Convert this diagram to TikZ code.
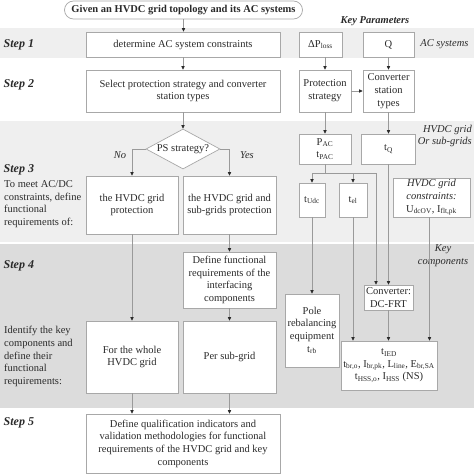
\documentclass[tikz,border=0pt]{standalone}
\usepackage{fontspec}
\setmainfont{Liberation Serif}
\usetikzlibrary{arrows.meta,shapes.geometric}
\definecolor{bandA}{HTML}{EFEFEF}
\definecolor{bandB}{HTML}{DCDCDC}
\definecolor{bord}{HTML}{A8A8A8}
\definecolor{lin}{HTML}{9A9A9A}
\definecolor{txt}{HTML}{2A2A2A}
\begin{document}
\begin{tikzpicture}[x=1pt,y=-1pt,
 font=\fontsize{10.5}{12.7}\selectfont, text=txt,
 box/.style={draw=bord, fill=white, line width=0.7pt, inner sep=0pt, align=center},
 sz/.style 2 args={minimum width=#1pt, minimum height=#2pt},
 arr/.style={draw=lin, line width=0.6pt, -{Triangle[length=3.5pt,width=3.2pt,color=txt]}},
 ln/.style={draw=lin, line width=0.6pt},
 stp/.style={font=\fontsize{12}{14}\selectfont\bfseries\itshape, anchor=west, inner sep=0pt},
 lbl/.style={font=\fontsize{10.5}{12.7}\selectfont\itshape}]
\useasboundingbox (0,0) rectangle (474,474);
% bands
\fill[bandA] (0,28) rectangle (474,58);
\fill[bandA] (0,121) rectangle (474,242);
\fill[bandB] (0,244) rectangle (474,408);
% top
\node[box, rounded corners=9pt, sz={238}{18}, font=\fontsize{10.5}{12.7}\selectfont\bfseries] (top) at (183.5,10) {Given an HVDC grid topology and its AC systems};
\node[font=\fontsize{10.5}{12.7}\selectfont\bfseries\itshape] (kp) at (375,21) {Key Parameters};
% step labels
\node[stp] (st1) at (3.5,45) {Step 1};
\node[stp] (st2) at (3.5,85) {Step 2};
\node[stp] (st3) at (3.5,170) {Step 3};
\node[stp] (st4) at (3.5,266) {Step 4};
\node[stp] (st5) at (3.5,423) {Step 5};
\node[anchor=west, align=left, inner sep=0pt] (t3) at (4,204) {To meet AC/DC\\constraints, define\\functional\\requirements of:};
\node[anchor=west, align=left, inner sep=0pt] (t4) at (4,356.5) {Identify the key\\components and\\define their\\functional\\requirements:};
% side labels
\node[lbl, anchor=east] (acs) at (472,44) {AC systems};
\node[lbl, anchor=east, align=right, inner sep=0pt] (hsg) at (472,136) {HVDC grid\\Or sub-grids};
\node[lbl, align=center, inner sep=0pt] (kc) at (443,256) {Key\\components};
% step 1
\node[box, sz={194}{25}] (s1) at (183,44.5) {determine AC system constraints};
\node[box, sz={43}{25}] (dp) at (320.5,44.5) {ΔP\textsubscript{loss}};
\node[box, sz={51}{25}] (q) at (388.5,44.5) {Q};
% step 2
\node[box, sz={194}{42}] (s2) at (183,91) {Select protection strategy and converter\\station types};
\node[box, sz={52}{42}] (prot) at (325,91) {Protection\\strategy};
\node[box, sz={51}{42}] (conv) at (388.5,91) {Converter\\station\\types};
% step 3
\node[box, shape=diamond, aspect=1.85, sz={74}{40}] (dia) at (183,149) {PS strategy?};
\node[lbl] (no) at (120,155) {No};
\node[lbl] (yes) at (247,155) {Yes};
\node[box, sz={92}{58}] (A) at (132,205) {the HVDC grid\\protection};
\node[box, sz={93}{58}] (B) at (229.5,205) {the HVDC grid and\\sub-grids protection};
\node[box, sz={52}{30}] (pac) at (325,149) {P\textsubscript{AC}\\t\textsubscript{PAC}};
\node[box, sz={54}{30}] (tq) at (388.5,149) {t\textsubscript{Q}};
\node[box, sz={26}{34}] (tudc) at (312,200) {t\textsubscript{Udc}};
\node[box, sz={28}{34}] (tel) at (353,200) {t\textsubscript{el}};
\node[box, sz={77}{39}] (hvdcc) at (431.5,197.5) {\textit{HVDC grid}\\\textit{constraints:}\\U\textsubscript{dcOV}, I\textsubscript{flt,pk}};
% step 4
\node[box, sz={93}{56}] (iface) at (229.5,280) {Define functional\\requirements of the\\interfacing\\components};
\node[box, sz={49}{25}] (conv2) at (388.5,297.5) {Converter:\\DC-FRT};
\node[box, sz={54}{73}] (pole) at (312,330.5) {Pole\\rebalancing\\equipment\\t\textsubscript{rb}};
\node[box, sz={96}{49}] (ied) at (389,365.5) {t\textsubscript{IED}\\t\textsubscript{br,o}, I\textsubscript{br,pk}, L\textsubscript{line}, E\textsubscript{br,SA}\\t\textsubscript{HSS,o}, I\textsubscript{HSS} (NS)};
\node[box, sz={92}{72}] (whole) at (132,357) {For the whole\\HVDC grid};
\node[box, sz={93}{72}] (persub) at (229.5,357) {Per sub-grid};
% step 5
\node[box, sz={194}{59}] (s5) at (183,443.5) {Define qualification indicators and\\validation methodologies for functional\\requirements of the HVDC grid and key\\components};
% connectors
\draw[arr] (top.south) -- (top.south |- s1.north);
\draw[arr] (s1.south) -- (s2.north);
\draw[arr] (dp.south -| prot.north) -- (prot.north);
\draw[arr] (q.south) -- (conv.north);
\draw[arr] (prot.east) -- (conv.west);
\draw[arr] (s2.south) -- (dia.north);
\draw[arr] (prot.south) -- (pac.north);
\draw[arr] (conv.south) -- (conv.south |- tq.north);
\draw[arr] (dia.west) -| (A.north);
\draw[arr] (dia.east) -| (B.north);
\coordinate (br) at (325,173);
\draw[ln] (pac.south) -- (br);
\draw[arr] (br) -| (tudc.north);
\draw[arr] (br) -| (tel.north);
\draw[arr] (br) -| ([xshift=-12.5pt]conv2.north);
\draw[arr] (tq.south) -- (tq.south |- conv2.north);
\draw[arr] (tudc.south) -- (pole.north);
\draw[arr] (tel.south) -- (tel.south |- ied.north);
\draw[arr] (conv2.south) -- (conv2.south |- ied.north);
\draw[arr] ([xshift=-2pt]hvdcc.south) -- ([xshift=-2pt]hvdcc.south |- ied.north);
\draw[arr] (A.south) -- (whole.north);
\draw[arr] (B.south) -- (iface.north);
\draw[arr] (iface.south) -- (persub.north);
\draw[arr] (whole.south) -- (whole.south |- s5.north);
\draw[arr] (persub.south) -- (persub.south |- s5.north);
\end{tikzpicture}
\end{document}
